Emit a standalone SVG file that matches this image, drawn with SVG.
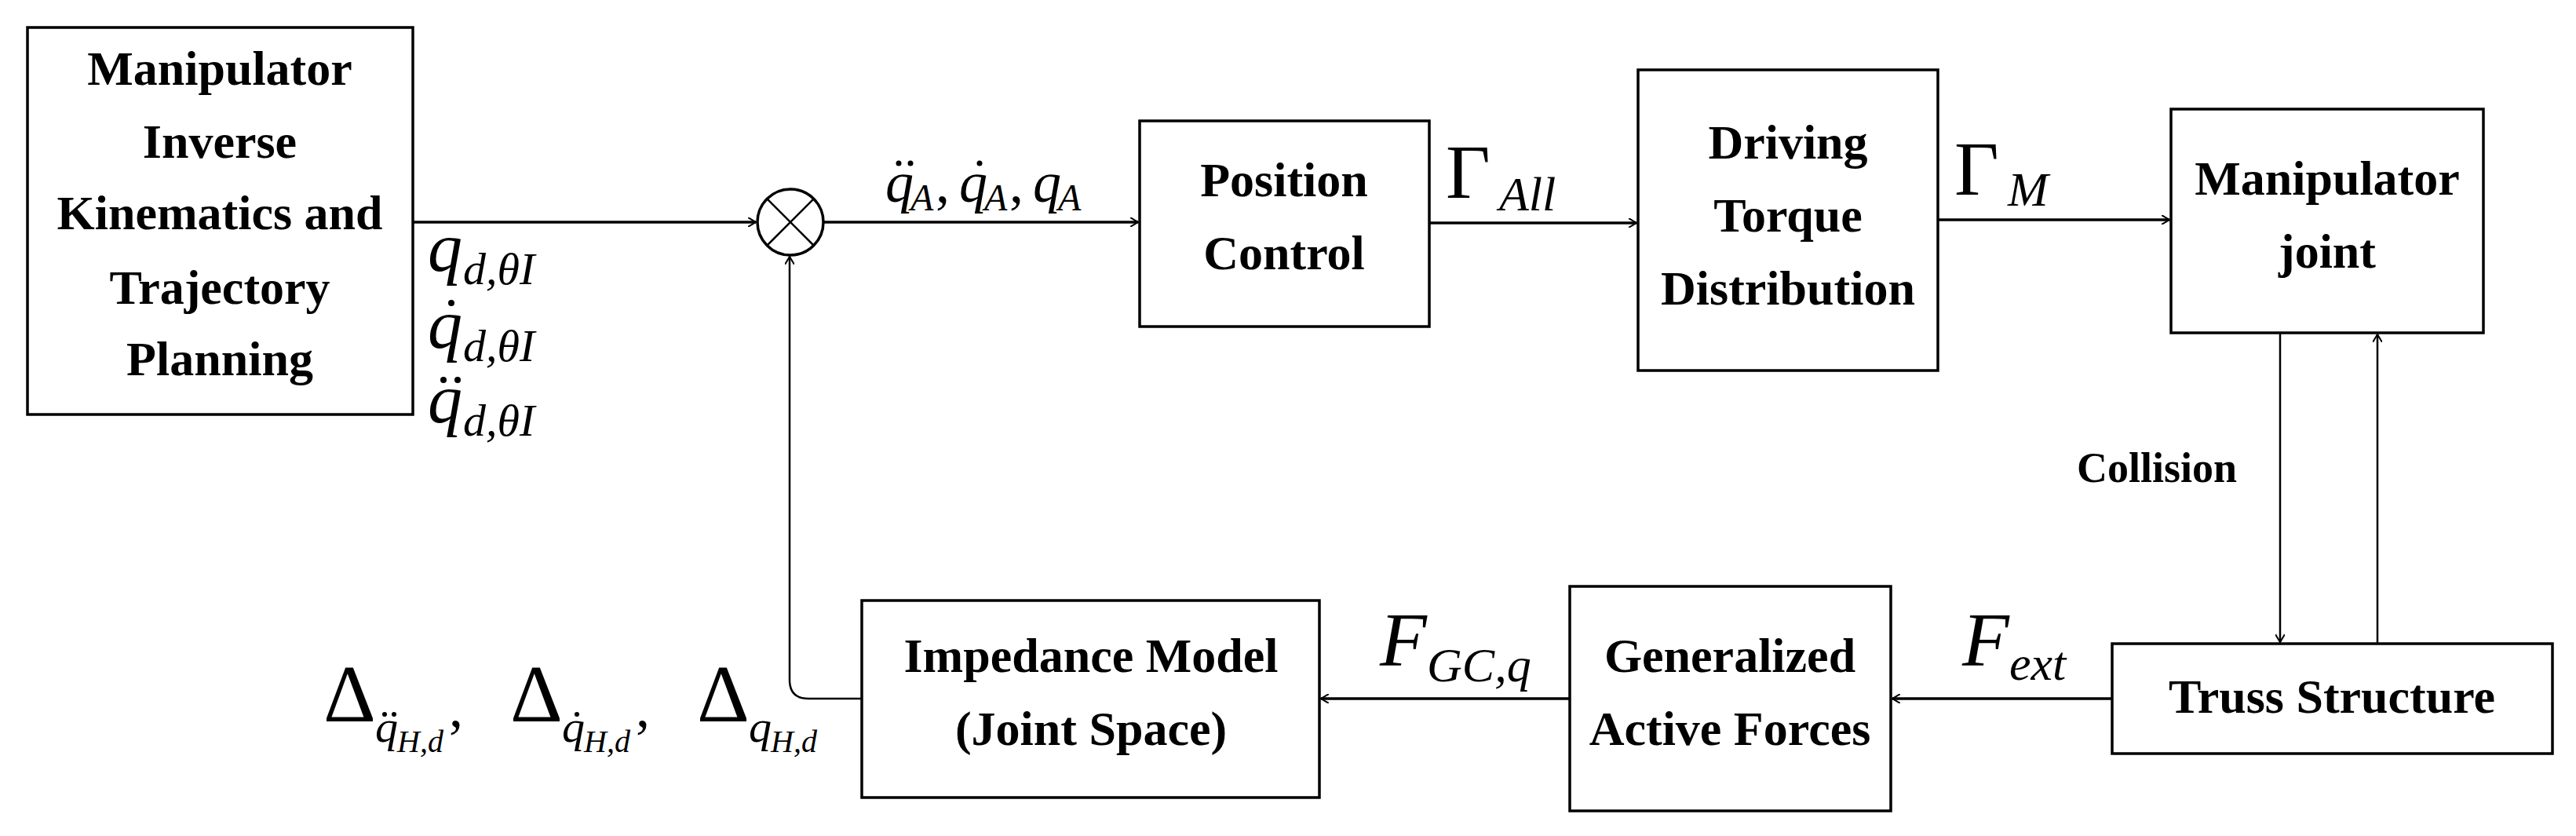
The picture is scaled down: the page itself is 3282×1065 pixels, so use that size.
<svg xmlns="http://www.w3.org/2000/svg" width="3282" height="1065" viewBox="0 0 3282 1065">
<style>
.box{fill:#fff;stroke:#000;stroke-width:3.5}
.t{font-family:"Liberation Serif",serif;font-weight:bold;font-size:62px;text-anchor:middle}
.m{font-family:"Liberation Serif",serif;font-style:italic}
.r{font-family:"Liberation Serif",serif}
.ln{fill:none;stroke:#000;stroke-width:3.5}
.th{fill:none;stroke:#000;stroke-width:2.5}
.d{fill:#000}
</style>
<defs>
<marker id="a" markerWidth="12" markerHeight="12" refX="10" refY="6" orient="auto" markerUnits="userSpaceOnUse">
<path d="M0,0 L10,6 L0,12" fill="none" stroke="#000" stroke-width="2"/>
</marker>
</defs>
<g id="connectors">
<line class="ln" x1="526" y1="283" x2="963" y2="283" marker-end="url(#a)"/>
<line class="ln" x1="1049" y1="283" x2="1450" y2="283" marker-end="url(#a)"/>
<line class="ln" x1="1821" y1="284" x2="2085" y2="284" marker-end="url(#a)"/>
<line class="ln" x1="2469" y1="280" x2="2764" y2="280" marker-end="url(#a)"/>
<line class="th" x1="2905" y1="424" x2="2905" y2="818" marker-end="url(#a)"/>
<line class="th" x1="3029" y1="820" x2="3029" y2="426" marker-end="url(#a)"/>
<line class="ln" x1="2691" y1="890" x2="2411" y2="890" marker-end="url(#a)"/>
<line class="ln" x1="2000" y1="890" x2="1683" y2="890" marker-end="url(#a)"/>
<path class="th" d="M1098,890 L1030,890 Q1006,890 1006,866 L1006,327" marker-end="url(#a)"/>
</g>
<g id="sum">
<circle cx="1007" cy="283" r="42" fill="#fff" stroke="#000" stroke-width="3.5"/>
<line class="th" x1="977" y1="253" x2="1037" y2="313"/>
<line class="th" x1="1037" y1="253" x2="977" y2="313"/>
</g>
<g id="n1">
<rect class="box" x="35" y="35" width="491" height="493"/>
<text class="t" x="280" y="108">Manipulator</text>
<text class="t" x="280" y="201">Inverse</text>
<text class="t" x="280" y="292">Kinematics and</text>
<text class="t" x="280" y="387">Trajectory</text>
<text class="t" x="280" y="478">Planning</text>
</g>
<g id="n2">
<rect class="box" x="1452" y="154" width="369" height="262"/>
<text class="t" x="1636" y="250">Position</text>
<text class="t" x="1636" y="343">Control</text>
</g>
<g id="n3">
<rect class="box" x="2087" y="89" width="382" height="383"/>
<text class="t" x="2278" y="202">Driving</text>
<text class="t" x="2278" y="295">Torque</text>
<text class="t" x="2278" y="388">Distribution</text>
</g>
<g id="n4">
<rect class="box" x="2766" y="139" width="398" height="285"/>
<text class="t" x="2965" y="248">Manipulator</text>
<text class="t" x="2965" y="341">joint</text>
</g>
<g id="n5">
<rect class="box" x="2691" y="820" width="561" height="140"/>
<text class="t" x="2971" y="908">Truss Structure</text>
</g>
<g id="n6">
<rect class="box" x="2000" y="747" width="409" height="286"/>
<text class="t" x="2204" y="856">Generalized</text>
<text class="t" x="2204" y="949">Active Forces</text>
</g>
<g id="n7">
<rect class="box" x="1098" y="765" width="583" height="251"/>
<text class="t" x="1390" y="856">Impedance Model</text>
<text class="t" x="1390" y="949">(Joint Space)</text>
</g>
<g id="labels">
<text class="t" x="2748" y="614" style="font-size:54px">Collision</text>
<text class="m" x="545" y="345" font-size="88">q</text>
<text class="m" x="590" y="362" font-size="58">d,θI</text>
<circle class="d" cx="575" cy="386" r="4"/>
<text class="m" x="545" y="443" font-size="88">q</text>
<text class="m" x="590" y="460" font-size="58">d,θI</text>
<circle class="d" cx="565" cy="484" r="4"/>
<circle class="d" cx="583" cy="484" r="4"/>
<text class="m" x="545" y="538" font-size="88">q</text>
<text class="m" x="590" y="555" font-size="58">d,θI</text>
<circle class="d" cx="1145" cy="208" r="3.5"/>
<circle class="d" cx="1160" cy="208" r="3.5"/>
<text class="m" x="1128" y="257" font-size="72">q</text>
<text class="m" x="1160" y="268" font-size="48">A</text>
<text class="r" x="1192" y="257" font-size="72">,</text>
<circle class="d" cx="1248" cy="208" r="3.5"/>
<text class="m" x="1222" y="257" font-size="72">q</text>
<text class="m" x="1254" y="268" font-size="48">A</text>
<text class="r" x="1286" y="257" font-size="72">,</text>
<text class="m" x="1316" y="257" font-size="72">q</text>
<text class="m" x="1348" y="268" font-size="48">A</text>
<text class="r" x="1842" y="252" font-size="98">Γ</text>
<text class="m" x="1910" y="268" font-size="62">All</text>
<text class="r" x="2490" y="248" font-size="98">Γ</text>
<text class="m" x="2558" y="262" font-size="62">M</text>
<text class="m" x="1758" y="848" font-size="98">F</text>
<text class="m" x="1818" y="868" font-size="62">GC,q</text>
<text class="m" x="2500" y="848" font-size="98">F</text>
<text class="m" x="2560" y="866" font-size="62">ext</text>
<text class="r" x="412" y="919" font-size="104">Δ</text>
<circle class="d" cx="490" cy="910" r="3"/>
<circle class="d" cx="502" cy="910" r="3"/>
<text class="m" x="478" y="945" font-size="58">q</text>
<text class="m" x="506" y="958" font-size="40">H,d</text>
<text class="r" x="572" y="925" font-size="72">,</text>
<text class="r" x="650" y="919" font-size="104">Δ</text>
<circle class="d" cx="735" cy="910" r="3"/>
<text class="m" x="716" y="945" font-size="58">q</text>
<text class="m" x="744" y="958" font-size="40">H,d</text>
<text class="r" x="810" y="925" font-size="72">,</text>
<text class="r" x="888" y="919" font-size="104">Δ</text>
<text class="m" x="954" y="945" font-size="58">q</text>
<text class="m" x="982" y="958" font-size="40">H,d</text>
</g>
</svg>
